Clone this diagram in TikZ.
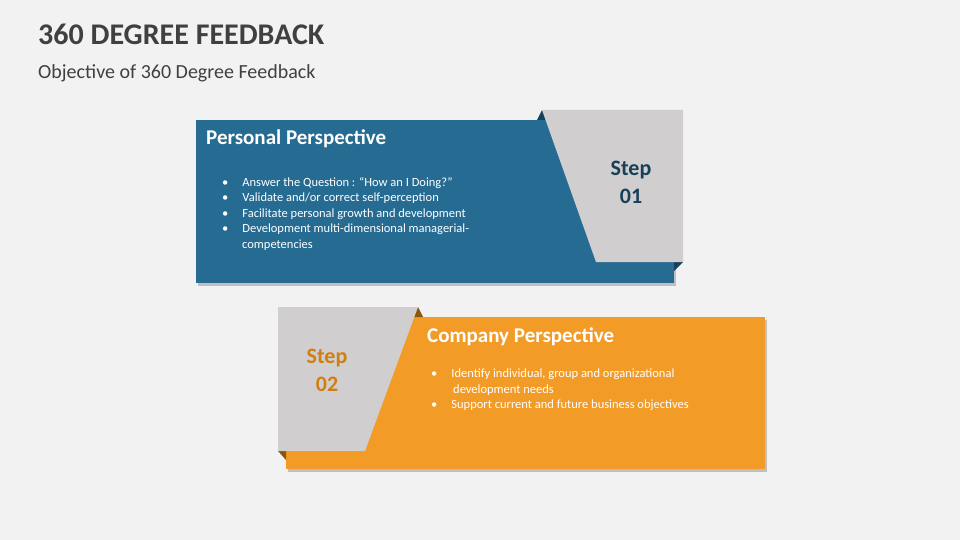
\documentclass[tikz,border=0pt]{standalone}
\usepackage{fontspec}
\setmainfont{Carlito}
\begin{document}
\begin{tikzpicture}[x=1pt,y=-1pt,
  btxt/.style={anchor=north west,text=white,font=\fontsize{12.5}{15.5}\selectfont,inner sep=0pt,align=left},
  shadow/.style={fill=black!25}]
\definecolor{bg}{HTML}{F2F2F2}
\definecolor{blu}{HTML}{266B92}
\definecolor{dblu}{HTML}{17405A}
\definecolor{org}{HTML}{F29B26}
\definecolor{dorg}{HTML}{8A5511}
\definecolor{gry}{HTML}{D0CECE}
\definecolor{stepo}{HTML}{D07F12}
\fill[bg] (0,0) rectangle (960,540);
\useasboundingbox (0,0) rectangle (960,540);
\node[anchor=west,inner sep=0pt,text=black!75,font=\fontsize{30}{34}\selectfont\bfseries] (title) at (38,34) {360 DEGREE FEEDBACK};
\node[anchor=west,inner sep=0pt,text=black!75,font=\fontsize{20}{24}\selectfont] (sub) at (38,73) {Objective of 360 Degree Feedback};
% block 1
\fill[shadow] (198,122) rectangle (676,286);
\fill[blu] (196,120) rectangle (674,283);
\fill[dblu] (537,120) -- (542,110) -- (547,120) -- cycle;
\fill[dblu] (674,262) -- (683,262) -- (674,271) -- cycle;
\fill[gry] (542,110) -- (683,110) -- (683,262) -- (596,262) -- cycle;
\node[anchor=west,inner sep=0pt,text=white,font=\fontsize{21}{24}\selectfont\bfseries] (h1) at (206,139) {Personal Perspective};
\node[btxt] (l1) at (222,177) {\textbullet\hspace{14pt}Answer the Question : “How an I Doing?”\\
\textbullet\hspace{14pt}Validate and/or correct self-perception\\
\textbullet\hspace{14pt}Facilitate personal growth and development\\
\textbullet\hspace{14pt}Development multi-dimensional managerial-\\
\hspace*{20pt}competencies};
\node[align=center,text=dblu,font=\fontsize{22}{28}\selectfont\bfseries] (s1) at (631,182) {Step\\01};
% block 2
\fill[shadow] (288,320) rectangle (767,472);
\fill[org] (286,317) rectangle (765,469);
\fill[dorg] (413,317) -- (418,307) -- (423,317) -- cycle;
\fill[dorg] (278,451) -- (286,451) -- (286,460) -- cycle;
\fill[gry] (278,307) -- (418,307) -- (365,451) -- (278,451) -- cycle;
\node[anchor=west,inner sep=0pt,text=white,font=\fontsize{21}{24}\selectfont\bfseries] (h2) at (427,337) {Company Perspective};
\node[btxt] (l2) at (431,369) {\textbullet\hspace{14pt}Identify individual, group and organizational\\
\hspace*{22pt}development needs\\
\textbullet\hspace{14pt}Support current and future business objectives};
\node[align=center,text=stepo,font=\fontsize{22}{28}\selectfont\bfseries] (s2) at (327,370) {Step\\02};
\end{tikzpicture}
\end{document}
